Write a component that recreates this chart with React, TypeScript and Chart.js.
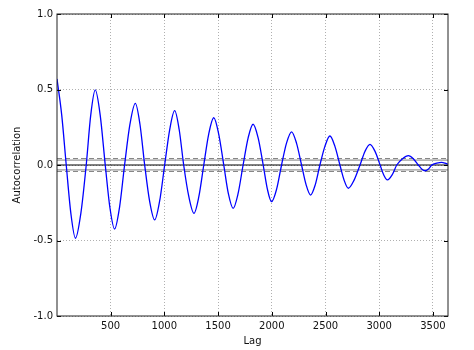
import React, { useEffect, useRef } from "react";
import { Chart, registerables } from "chart.js";

Chart.register(...registerables);

const lags = [
  1, 45, 87, 130, 173, 223, 273, 315, 357, 403, 450, 493, 537, 583, 630, 680, 730, 773, 817, 863,
  910, 956, 1003, 1050, 1096, 1138, 1180, 1228, 1276, 1321, 1367, 1413, 1460, 1506, 1553, 1596,
  1640, 1686, 1733, 1780, 1826, 1873, 1920, 1959, 1998, 2045, 2091, 2137, 2184, 2230, 2277, 2319,
  2361, 2405, 2448, 2495, 2541, 2587, 2634, 2673, 2712, 2766, 2821, 2867, 2914, 2961, 3008, 3042,
  3076, 3120, 3163, 3217, 3271, 3317, 3364, 3395, 3427, 3458, 3489, 3536, 3583, 3612, 3640,
];
const acf = [
  0.57, 0.33, 0.0, -0.32, -0.485, -0.32, 0.0, 0.33, 0.497, 0.33, 0.0, -0.28, -0.424, -0.28, 0.0, 0.27,
  0.408, 0.27, 0.0, -0.24, -0.364, -0.24, 0.0, 0.235, 0.36, 0.235, 0.0, -0.21, -0.32, -0.21, 0.0,
  0.205, 0.313, 0.205, 0.0, -0.19, -0.287, -0.19, 0.0, 0.18, 0.27, 0.18, 0.0, -0.16, -0.243, -0.16, 0.0,
  0.145, 0.22, 0.145, 0.0, -0.13, -0.199, -0.13, 0.0, 0.125, 0.192, 0.125, 0.0, -0.1, -0.154,
  -0.1, 0.0, 0.09, 0.137, 0.09, 0.0, -0.066, -0.099, -0.066, 0.0, 0.042, 0.062, 0.042, 0.0,
  -0.026, -0.038, -0.026, 0.0, 0.013, 0.018, 0.012, 0.005,
];
const xTicks = [500, 1000, 1500, 2000, 2500, 3000, 3500];
const yTicks = [-1, -0.5, 0, 0.5, 1];
const lagRange = [1, 3640];
const conf95 = 0.0325;
const conf99 = 0.0427;

const FONT = { family: "'DejaVu Sans', sans-serif", size: 10 };
const TEXT = "#111";

export default function App() {
  const ref = useRef<HTMLCanvasElement>(null);

  useEffect(() => {
    document.body.style.margin = "0";
    const frame = {
      id: "frame",
      afterDatasetsDraw(chart: any) {
        const { ctx, chartArea: a, scales } = chart;
        ctx.save();
        ctx.strokeStyle = "#000";
        ctx.lineWidth = 1;
        ctx.beginPath();
        for (const v of xTicks) {
          const px = Math.round(scales.x.getPixelForValue(v)) + 0.5;
          ctx.moveTo(px, a.bottom);
          ctx.lineTo(px, a.bottom - 4);
          ctx.moveTo(px, a.top);
          ctx.lineTo(px, a.top + 4);
        }
        for (const v of yTicks) {
          const py = Math.round(scales.y.getPixelForValue(v)) + 0.5;
          ctx.moveTo(a.left, py);
          ctx.lineTo(a.left + 4, py);
          ctx.moveTo(a.right, py);
          ctx.lineTo(a.right - 4, py);
        }
        ctx.stroke();
        ctx.strokeStyle = "#222";
        ctx.strokeRect(a.left, a.top, a.right - a.left, a.bottom - a.top);
        ctx.restore();
      },
    };
    const hline = (y: number, color: string, dash: number[]) => ({
      data: [
        { x: lagRange[0], y },
        { x: lagRange[1], y },
      ],
      borderColor: color,
      borderWidth: 1,
      borderDash: dash,
      pointRadius: 0,
      order: 1,
    });
    const chart = new Chart(ref.current as HTMLCanvasElement, {
      type: "line",
      data: {
        datasets: [
          {
            data: lags.map((l, i) => ({ x: l, y: acf[i] })),
            borderColor: "#0000ff",
            borderWidth: 1.3,
            pointRadius: 0,
            cubicInterpolationMode: "monotone",
            order: 0,
          } as any,
          hline(conf99, "#808080", [5, 3]),
          hline(-conf99, "#808080", [5, 3]),
          hline(conf95, "#808080", []),
          hline(-conf95, "#808080", []),
          hline(0, "#000000", []),
        ],
      },
      options: {
        responsive: false,
        animation: false,
        events: [],
        layout: { padding: { top: 14, right: 26, left: 0, bottom: 0 } },
        plugins: { legend: { display: false }, tooltip: { enabled: false } },
        scales: {
          x: {
            type: "linear",
            min: lagRange[0],
            max: lagRange[1],
            afterBuildTicks: (s: any) => {
              s.ticks = xTicks.map((v) => ({ value: v }));
            },
            afterFit: (s: any) => {
              s.height = 34;
            },
            ticks: {
              font: FONT,
              color: TEXT,
              padding: 4,
              maxRotation: 0,
              autoSkip: false,
              callback: (v: any) => String(v),
            },
            grid: { color: "#b0b0b0", lineWidth: 1, drawTicks: false },
            border: { display: false, dash: [1, 2] },
            title: { display: true, text: "Lag", font: FONT, color: TEXT, padding: { top: 0, bottom: 3 } },
          },
          y: {
            type: "linear",
            min: -1,
            max: 1,
            afterBuildTicks: (s: any) => {
              s.ticks = yTicks.map((v) => ({ value: v }));
            },
            afterFit: (s: any) => {
              s.width = 57;
            },
            ticks: {
              font: FONT,
              color: TEXT,
              padding: 4,
              autoSkip: false,
              callback: (v: any) => Number(v).toFixed(1),
            },
            grid: { color: "#b0b0b0", lineWidth: 1, drawTicks: false },
            border: { display: false, dash: [1, 2] },
            title: {
              display: true,
              text: "Autocorrelation",
              font: FONT,
              color: TEXT,
              padding: { top: 11, bottom: 0 },
            },
          },
        },
      },
      plugins: [frame],
    });
    return () => chart.destroy();
  }, []);

  return (
    <div style={{ width: 474, height: 350 }}>
      <canvas ref={ref} width={474} height={350} style={{ display: "block" }} />
    </div>
  );
}
